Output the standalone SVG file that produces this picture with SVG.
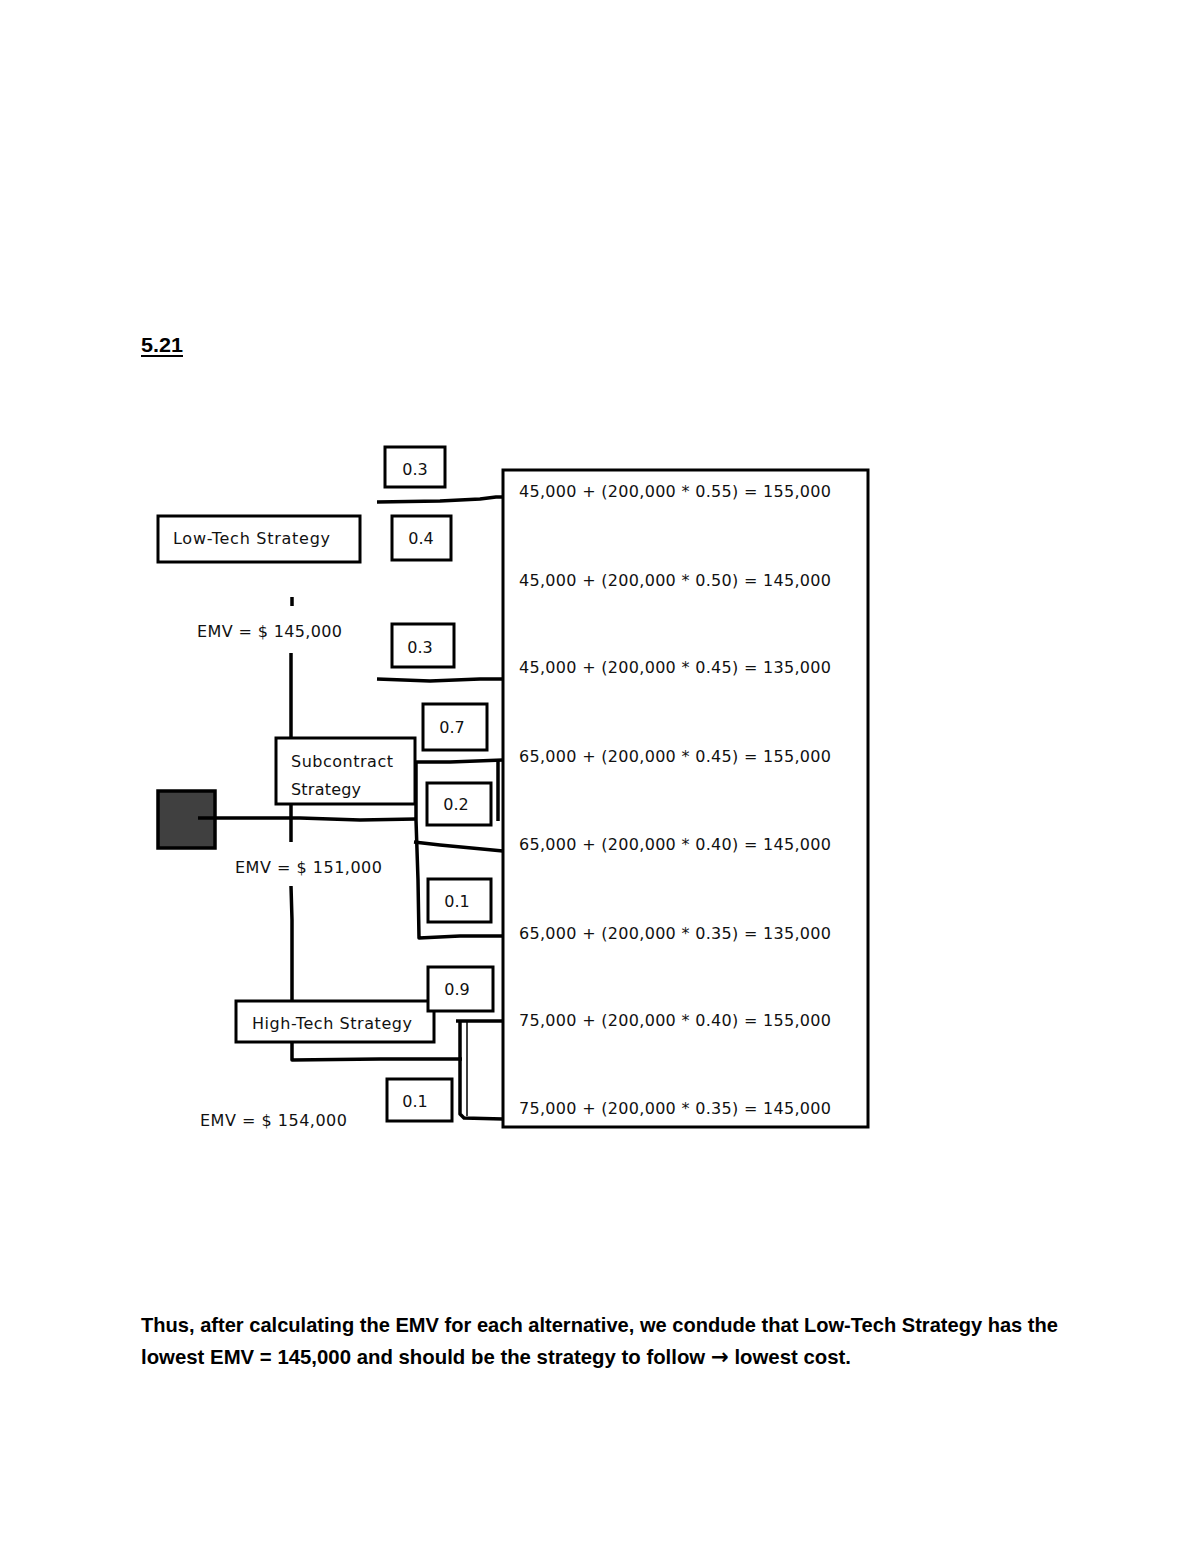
<svg xmlns="http://www.w3.org/2000/svg" width="1200" height="1553" viewBox="0 0 1200 1553">
<style>
.bx{fill:#fff;stroke:#000;stroke-width:3}
.ln{fill:none;stroke:#000;stroke-width:3.5;stroke-linejoin:round;stroke-linecap:butt}
.t{font-family:"DejaVu Sans","Liberation Sans",sans-serif;font-size:16px;fill:#111}
.p{font-family:"DejaVu Sans","Liberation Sans",sans-serif;font-size:16px;fill:#111;text-anchor:middle}
.b{font-family:"Liberation Sans",Arial,sans-serif;font-size:21px;font-weight:bold;fill:#000}
.ar{font-family:"DejaVu Sans",sans-serif;font-weight:bold;font-size:22px}
</style>
<rect width="1200" height="1553" fill="#fff"/>
<g id="title">
<text x="141" y="352" class="b" textLength="42" lengthAdjust="spacingAndGlyphs">5.21</text>
<line x1="141" y1="356" x2="183" y2="356" stroke="#000" stroke-width="2"/>
</g>
<g id="decision">
<rect x="158" y="791" width="57" height="57" fill="#404040" stroke="#000" stroke-width="3.5"/>
</g>
<g id="connectors">
<path class="ln" d="M198 818 L300 818 L360 820 L416 819"/>
<path class="ln" d="M292 597 L292 606"/>
<path class="ln" d="M291 653 L291 738"/>
<path class="ln" d="M291 805 L291 842"/>
<path class="ln" d="M291 886 L292 920 L292 1001"/>
<path class="ln" d="M292 1042 L292 1060 L380 1059 L462 1059"/>
<path class="ln" d="M377 502 L440 501 L480 499 L496 497 L503 497"/>
<path class="ln" d="M377 679 L430 681 L480 679 L503 679"/>
<path class="ln" d="M416 762 L416 820"/>
<path class="ln" d="M416 762 L450 762 L503 760"/>
<path class="ln" d="M498 760 L498 821"/>
<path class="ln" d="M414 842 L440 845 L503 851"/>
<path class="ln" d="M416 820 L418 880 L419 938 L460 936 L503 936"/>
<path class="ln" d="M456 1021 L503 1021"/>
<path class="ln" d="M460 1021 L460 1114 L464 1118 L503 1119"/>
<path fill="none" stroke="#000" stroke-width="1.5" d="M467 1022 L467 1116"/>
</g>
<g id="outcomes">
<rect class="bx" x="503" y="470" width="365" height="657"/>
<text class="t" x="519" y="497" textLength="312" lengthAdjust="spacing">45,000 + (200,000 * 0.55) = 155,000</text>
<text class="t" x="519" y="586" textLength="312" lengthAdjust="spacing">45,000 + (200,000 * 0.50) = 145,000</text>
<text class="t" x="519" y="673" textLength="312" lengthAdjust="spacing">45,000 + (200,000 * 0.45) = 135,000</text>
<text class="t" x="519" y="762" textLength="312" lengthAdjust="spacing">65,000 + (200,000 * 0.45) = 155,000</text>
<text class="t" x="519" y="850" textLength="312" lengthAdjust="spacing">65,000 + (200,000 * 0.40) = 145,000</text>
<text class="t" x="519" y="939" textLength="312" lengthAdjust="spacing">65,000 + (200,000 * 0.35) = 135,000</text>
<text class="t" x="519" y="1026" textLength="312" lengthAdjust="spacing">75,000 + (200,000 * 0.40) = 155,000</text>
<text class="t" x="519" y="1114" textLength="312" lengthAdjust="spacing">75,000 + (200,000 * 0.35) = 145,000</text>
</g>
<g id="low-tech">
<rect class="bx" x="158" y="516" width="202" height="46"/>
<text class="t" x="173" y="544" textLength="157" lengthAdjust="spacing">Low-Tech Strategy</text>
<text class="t" x="197" y="637" textLength="145" lengthAdjust="spacing">EMV = $ 145,000</text>
</g>
<g id="subcontract">
<rect class="bx" x="276" y="738" width="139" height="66"/>
<text class="t" x="291" y="767" textLength="102" lengthAdjust="spacing">Subcontract</text>
<text class="t" x="291" y="795" textLength="70" lengthAdjust="spacing">Strategy</text>
<text class="t" x="235" y="873" textLength="147" lengthAdjust="spacing">EMV = $ 151,000</text>
</g>
<g id="high-tech">
<rect class="bx" x="236" y="1001" width="198" height="41"/>
<text class="t" x="252" y="1029" textLength="160" lengthAdjust="spacing">High-Tech Strategy</text>
<text class="t" x="200" y="1126" textLength="147" lengthAdjust="spacing">EMV = $ 154,000</text>
</g>
<g id="p-low-1"><rect class="bx" x="385" y="447" width="60" height="40"/><text class="p" x="415" y="475">0.3</text></g>
<g id="p-low-2"><rect class="bx" x="392" y="516" width="59" height="44"/><text class="p" x="421" y="544">0.4</text></g>
<g id="p-low-3"><rect class="bx" x="392" y="624" width="62" height="43"/><text class="p" x="420" y="653">0.3</text></g>
<g id="p-sub-1"><rect class="bx" x="423" y="704" width="64" height="46"/><text class="p" x="452" y="733">0.7</text></g>
<g id="p-sub-2"><rect class="bx" x="427" y="783" width="64" height="42"/><text class="p" x="456" y="810">0.2</text></g>
<g id="p-sub-3"><rect class="bx" x="428" y="879" width="63" height="43"/><text class="p" x="457" y="907">0.1</text></g>
<g id="p-high-1"><rect class="bx" x="428" y="967" width="65" height="44"/><text class="p" x="457" y="995">0.9</text></g>
<g id="p-high-2"><rect class="bx" x="387" y="1079" width="65" height="42"/><text class="p" x="415" y="1107">0.1</text></g>
<g id="conclusion">
<text class="b" x="141" y="1332" textLength="917" lengthAdjust="spacingAndGlyphs">Thus, after calculating the EMV for each alternative, we condude that Low-Tech Strategy has the</text>
<text class="b" x="141" y="1364" textLength="710" lengthAdjust="spacingAndGlyphs">lowest EMV = 145,000 and should be the strategy to follow <tspan class="ar">→</tspan> lowest cost.</text>
</g>
</svg>
